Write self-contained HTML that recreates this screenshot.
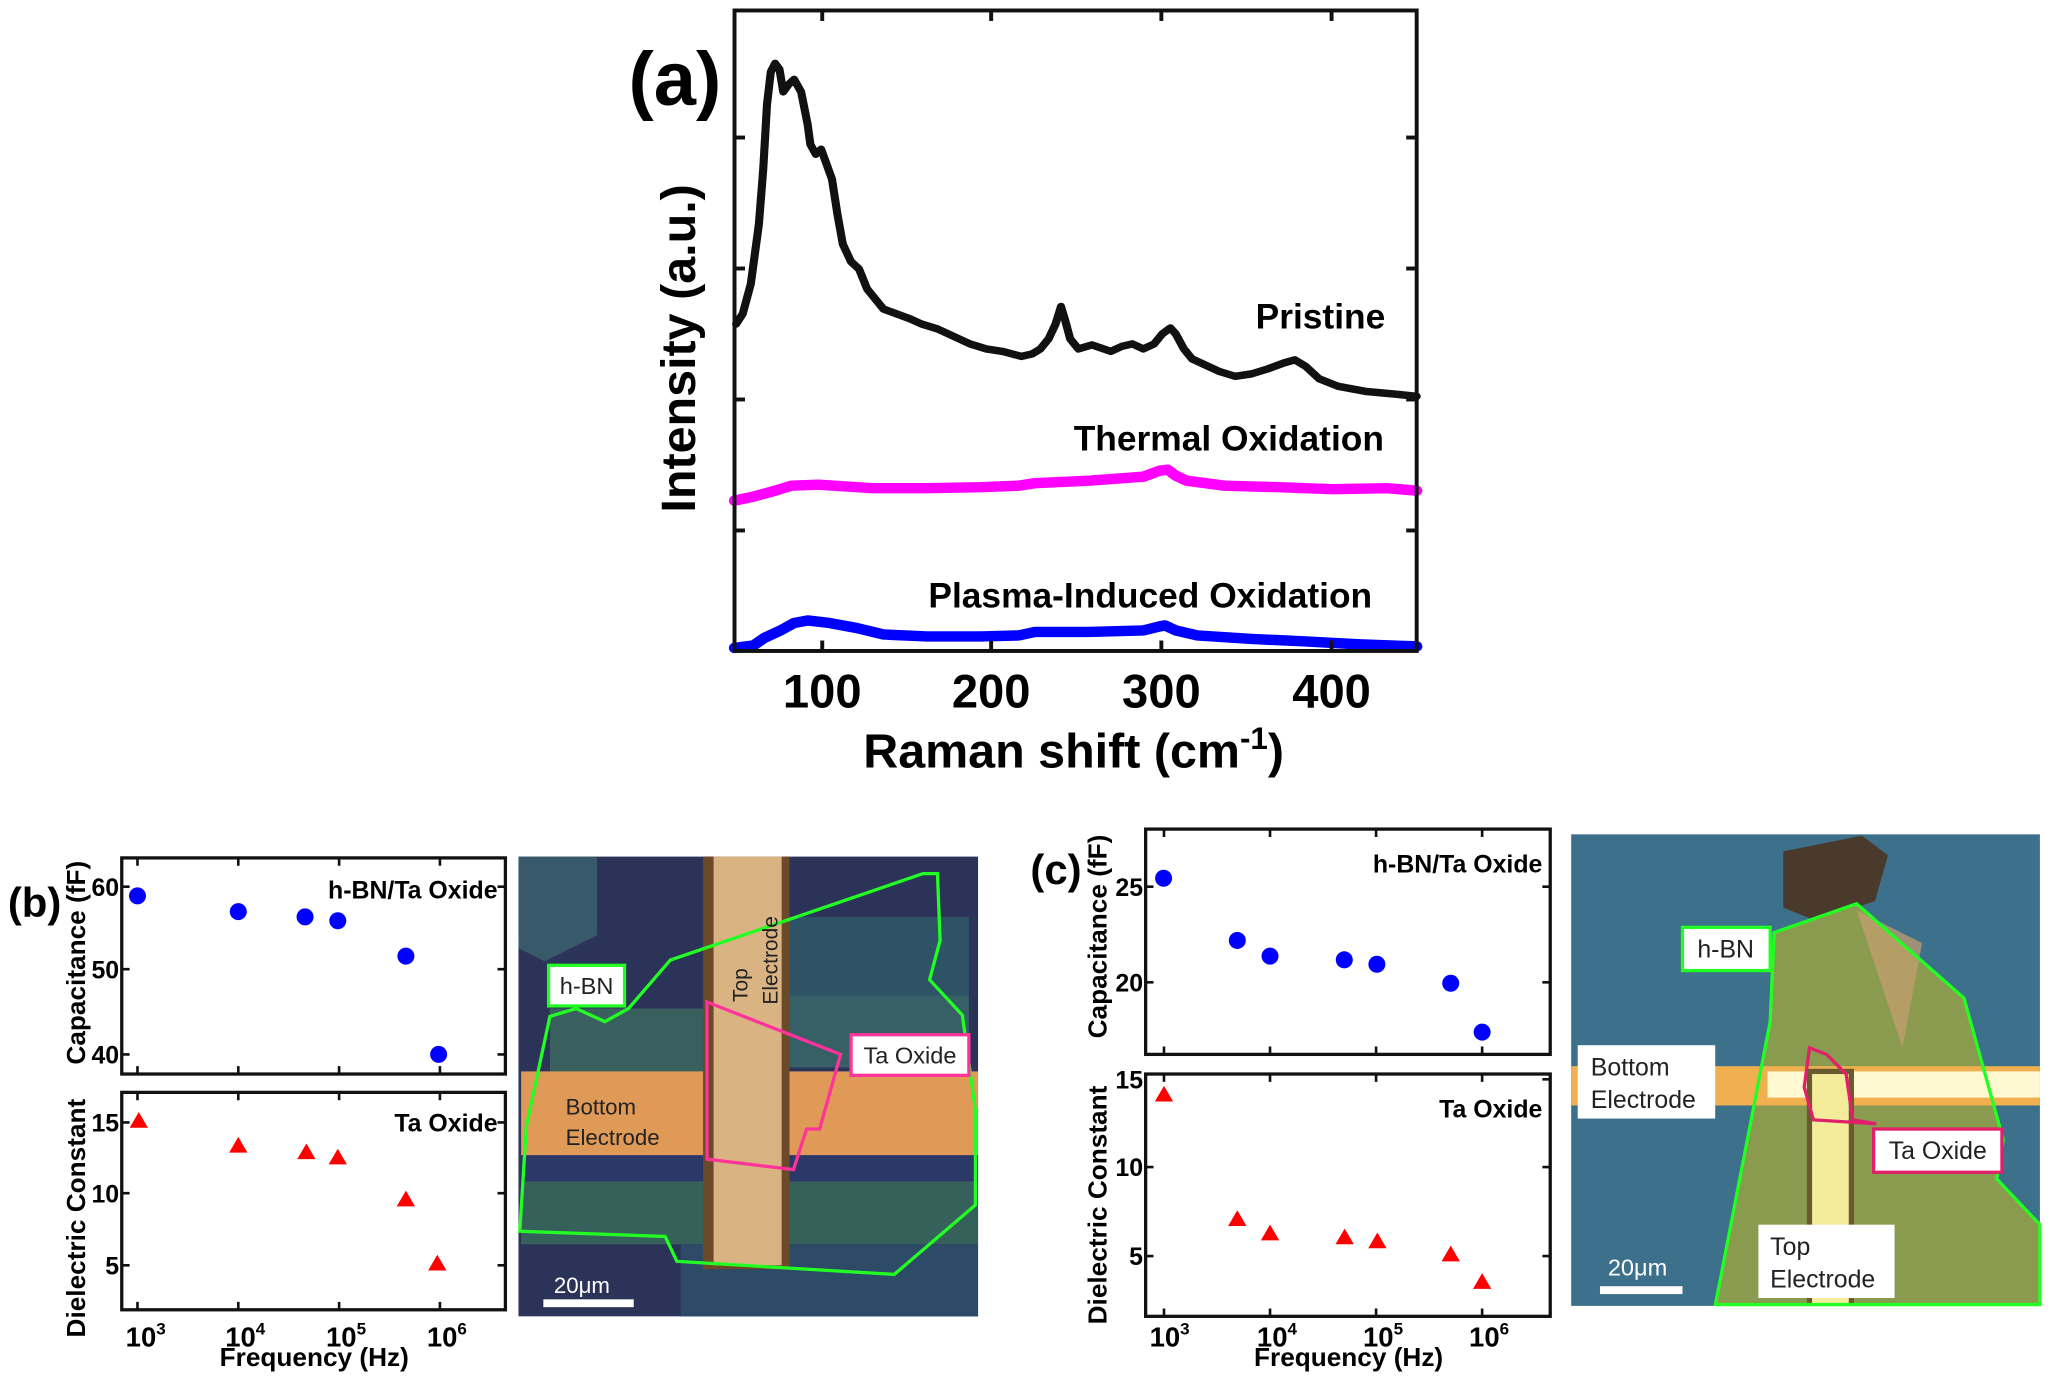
<!DOCTYPE html>
<html><head><meta charset="utf-8"><style>html,body{margin:0;padding:0;background:#fff}svg{display:block}</style></head>
<body>
<svg width="2053" height="1391" viewBox="0 0 1568 1062" preserveAspectRatio="none" xmlns="http://www.w3.org/2000/svg" font-family="Liberation Sans, sans-serif" font-weight="bold">
<rect width="1568" height="1062" fill="#fff"/>
<!-- Panel a -->
<text x="480" y="80" font-size="58">(a)</text>
<g transform="translate(459.7,3.43) scale(0.4135,0.3811)" fill="none" stroke-linejoin="round" stroke-linecap="round">
<polyline stroke="#111" stroke-width="15" points="248,640 260,620 275,560 290,440 298,330 305,200 312,135 320,118 328,130 335,175 345,160 355,150 368,175 380,240 385,280 395,300 405,290 415,320 425,350 435,420 445,480 460,515 475,530 490,570 505,590 520,610 545,620 570,630 590,640 620,650 650,665 680,680 710,690 740,695 775,705 795,700 810,690 825,670 838,640 848,605 855,630 865,670 880,690 905,682 940,695 960,685 980,680 1000,690 1020,680 1035,660 1050,648 1060,660 1075,690 1090,710 1110,720 1140,735 1170,745 1200,740 1230,730 1260,718 1280,712 1300,725 1325,750 1360,765 1410,775 1460,780 1505,785"/>
<g transform="translate(0,14)">
<polyline stroke="#f0f" stroke-width="21" points="245,980 280,972 320,960 350,950 400,948 500,955 600,955 700,953 770,950 800,945 900,940 1000,932 1030,920 1045,918 1060,930 1080,940 1150,950 1250,953 1350,957 1450,955 1505,960"/>
<polyline stroke="#00f" stroke-width="21" points="245,1275 280,1270 300,1255 330,1240 355,1225 380,1220 420,1225 470,1235 520,1248 600,1252 700,1252 770,1250 800,1243 900,1243 1000,1240 1030,1232 1040,1230 1060,1240 1100,1250 1200,1257 1300,1262 1400,1268 1505,1272"/>
</g>
</g>
<rect x="561" y="8" width="521" height="489" fill="none" stroke="#111" stroke-width="3"/>
<g stroke="#111" stroke-width="3">
<line x1="628" y1="497" x2="628" y2="489"/><line x1="757" y1="497" x2="757" y2="489"/><line x1="887" y1="497" x2="887" y2="489"/><line x1="1017" y1="497" x2="1017" y2="489"/>
<line x1="628" y1="8" x2="628" y2="16"/><line x1="757" y1="8" x2="757" y2="16"/><line x1="887" y1="8" x2="887" y2="16"/><line x1="1017" y1="8" x2="1017" y2="16"/>
<line x1="561" y1="105" x2="569" y2="105"/><line x1="561" y1="205" x2="569" y2="205"/><line x1="561" y1="305" x2="569" y2="305"/><line x1="561" y1="405" x2="569" y2="405"/>
<line x1="1082" y1="105" x2="1074" y2="105"/><line x1="1082" y1="205" x2="1074" y2="205"/><line x1="1082" y1="305" x2="1074" y2="305"/><line x1="1082" y1="405" x2="1074" y2="405"/>
</g>
<g font-size="36" text-anchor="middle">
<text x="628" y="540">100</text><text x="757" y="540">200</text><text x="887" y="540">300</text><text x="1017" y="540">400</text>
</g>
<text x="820" y="586" font-size="37" text-anchor="middle">Raman shift (cm<tspan dy="-14" font-size="24">-1</tspan><tspan dy="14">)</tspan></text>
<text transform="translate(531,266) rotate(-90)" font-size="37" text-anchor="middle">Intensity (a.u.)</text>
<g font-size="27" text-anchor="end">
<text x="1058" y="251">Pristine</text>
<text x="1057" y="344">Thermal Oxidation</text>
<text x="1048" y="464">Plasma-Induced Oxidation</text>
</g>

<!-- Panel b plots -->
<text x="6" y="700" font-size="32">(b)</text>
<g fill="none" stroke="#111" stroke-width="2.5">
<rect x="93" y="655" width="293" height="165"/>
<rect x="93" y="834" width="293" height="166"/>
</g>
<g stroke="#111" stroke-width="2">
<path d="M105 655v6M182 655v6M259 655v6M336 655v6M105 820v-6M182 820v-6M259 820v-6M336 820v-6M105 834v6M182 834v6M259 834v6M336 834v6M105 1000v-6M182 1000v-6M259 1000v-6M336 1000v-6"/>
<path d="M93 677h6M93 740h6M93 805h6M386 677h-6M386 740h-6M386 805h-6M93 857h6M93 911h6M93 966h6M386 857h-6M386 911h-6M386 966h-6"/>
</g>
<g fill="#00f">
<circle cx="105" cy="684" r="6.5"/><circle cx="182" cy="696" r="6.5"/><circle cx="233" cy="700" r="6.5"/><circle cx="258" cy="703" r="6.5"/><circle cx="310" cy="730" r="6.5"/><circle cx="335" cy="805" r="6.5"/>
</g>
<g fill="#f00">
<path d="M106 849l7 12h-14z"/><path d="M182 868l7 12h-14z"/><path d="M234 873l7 12h-14z"/><path d="M258 877l7 12h-14z"/><path d="M310 909l7 12h-14z"/><path d="M334 958l7 12h-14z"/>
</g>
<g font-size="19" text-anchor="end">
<text x="380" y="686">h-BN/Ta Oxide</text><text x="380" y="864">Ta Oxide</text>
<text x="91" y="684">60</text><text x="91" y="747">50</text><text x="91" y="812">40</text>
<text x="91" y="864">15</text><text x="91" y="918">10</text><text x="91" y="973">5</text>
</g>
<g font-size="21">
<text x="96" y="1028">10<tspan dy="-9" font-size="13">3</tspan></text>
<text x="172" y="1028">10<tspan dy="-9" font-size="13">4</tspan></text>
<text x="249" y="1028">10<tspan dy="-9" font-size="13">5</tspan></text>
<text x="326" y="1028">10<tspan dy="-9" font-size="13">6</tspan></text>
</g>
<text x="240" y="1043" font-size="20" text-anchor="middle">Frequency (Hz)</text>
<text transform="translate(65,735) rotate(-90)" font-size="20" text-anchor="middle">Capacitance (fF)</text>
<text transform="translate(65,930) rotate(-90)" font-size="20" text-anchor="middle">Dielectric Constant</text>

<!-- Panel b image -->
<rect x="396" y="654" width="351" height="351" fill="#2b3358"/>
<path d="M396 654h60v60l-40 20-20-10z" fill="#3d6a70" opacity="0.7"/>
<path d="M600 700h140v60h-140z" fill="#2f5a6a" opacity="0.8"/>
<path d="M420 770h120v50h-120z" fill="#3e6a62" opacity="0.8"/>
<path d="M600 760h140v55h-140z" fill="#3a6a6a" opacity="0.8"/>
<rect x="398" y="818" width="349" height="64" fill="#e09a58"/>
<path d="M398 882h349v20h-349z" fill="#2c3868"/>
<path d="M398 902h349v48h-349z" fill="#36605a"/>
<path d="M520 950h227v55h-227z" fill="#2d4a66"/>
<rect x="537" y="654" width="66" height="315" fill="#6a4a28"/>
<rect x="545" y="654" width="52" height="312" fill="#d9b482"/>
<polygon points="397,940 508,944 517,963 683,973 745,920 745,848 735,775 710,748 718,718 716,667 705,667 512,733 480,770 462,780 440,770 420,776 402,860" fill="none" stroke="#2f2" stroke-width="2.5"/>
<polygon points="540,765 642,805 626,862 616,862 606,893 540,885" fill="none" stroke="#f39" stroke-width="2.5"/>
<rect x="419" y="737" width="58" height="31" fill="#fff" stroke="#2f2" stroke-width="2.5"/>
<text x="448" y="759" font-size="18" font-weight="normal" text-anchor="middle" fill="#222">h-BN</text>
<rect x="650" y="790" width="90" height="31" fill="#fff" stroke="#f39" stroke-width="2.5"/>
<text x="695" y="812" font-size="18" font-weight="normal" text-anchor="middle" fill="#222">Ta Oxide</text>
<text x="432" y="851" font-size="17" font-weight="normal" fill="#222">Bottom</text>
<text x="432" y="874" font-size="17" font-weight="normal" fill="#222">Electrode</text>
<text transform="translate(571,765) rotate(-90)" font-size="16" font-weight="normal" fill="#222">Top</text>
<text transform="translate(594,767) rotate(-90)" font-size="16" font-weight="normal" fill="#222">Electrode</text>
<text x="423" y="987" font-size="17" font-weight="normal" fill="#fff">20μm</text>
<rect x="415" y="992" width="69" height="6" fill="#fff"/>

<!-- Panel c plots -->
<text x="787" y="675" font-size="32">(c)</text>
<g fill="none" stroke="#111" stroke-width="2.5">
<rect x="875" y="633" width="309" height="172"/>
<rect x="875" y="820" width="309" height="185"/>
</g>
<g stroke="#111" stroke-width="2">
<path d="M889 633v6M970 633v6M1051 633v6M1132 633v6M889 805v-6M970 805v-6M1051 805v-6M1132 805v-6M889 820v6M970 820v6M1051 820v6M1132 820v6M889 1005v-6M970 1005v-6M1051 1005v-6M1132 1005v-6"/>
<path d="M875 677h6M875 750h6M1184 677h-6M1184 750h-6M875 891h6M875 959h6M1184 824h-6M1184 891h-6M1184 959h-6"/>
</g>
<g fill="#00f">
<circle cx="888.7" cy="670.5" r="6.5"/><circle cx="945" cy="718" r="6.5"/><circle cx="970" cy="730" r="6.5"/><circle cx="1026.7" cy="732.8" r="6.5"/><circle cx="1051.6" cy="736.2" r="6.5"/><circle cx="1108" cy="750.7" r="6.5"/><circle cx="1132" cy="788" r="6.5"/>
</g>
<g fill="#f00">
<path d="M889 829l7 12h-14z"/><path d="M945 924l7 12h-14z"/><path d="M970 935l7 12h-14z"/><path d="M1027 938l7 12h-14z"/><path d="M1052 941l7 12h-14z"/><path d="M1108 951l7 12h-14z"/><path d="M1132 972l7 12h-14z"/>
</g>
<g font-size="19" text-anchor="end">
<text x="1178" y="666">h-BN/Ta Oxide</text><text x="1178" y="853">Ta Oxide</text>
<text x="873" y="684">25</text><text x="873" y="757">20</text>
<text x="873" y="831">15</text><text x="873" y="898">10</text><text x="873" y="966">5</text>
</g>
<g font-size="21">
<text x="878" y="1028">10<tspan dy="-9" font-size="13">3</tspan></text>
<text x="960" y="1028">10<tspan dy="-9" font-size="13">4</tspan></text>
<text x="1041" y="1028">10<tspan dy="-9" font-size="13">5</tspan></text>
<text x="1122" y="1028">10<tspan dy="-9" font-size="13">6</tspan></text>
</g>
<text x="1030" y="1043" font-size="20" text-anchor="middle">Frequency (Hz)</text>
<text transform="translate(845,715) rotate(-90)" font-size="20" text-anchor="middle">Capacitance (fF)</text>
<text transform="translate(845,920) rotate(-90)" font-size="20" text-anchor="middle">Dielectric Constant</text>

<!-- Panel c image -->
<rect x="1200" y="637" width="358" height="360" fill="#3d708a"/>
<path d="M1362 650l60-12 20 15-10 35-45 15-25-10z" fill="#4a3a2c"/>
<polygon points="1310,997 1352,780 1355,712 1418,690 1500,762 1530,870 1525,900 1558,935 1558,997" fill="#8a9a4e"/>
<path d="M1418 695l50 25-15 80z" fill="#c8a070" opacity="0.7"/>
<rect x="1200" y="814" width="358" height="30" fill="#f0b050"/>
<rect x="1350" y="818" width="208" height="20" fill="#fff8d0"/>
<rect x="1380" y="816" width="36" height="181" fill="#6a5a30"/>
<rect x="1384" y="820" width="28" height="177" fill="#f4ec9a"/>
<polyline points="1310,997 1352,780 1355,712 1418,690 1500,762 1530,870 1525,900 1558,935 1558,996 1310,996" fill="none" stroke="#2f2" stroke-width="2.5"/>
<polygon points="1382,800 1395,805 1410,820 1415,855 1433,858 1385,855 1378,830" fill="none" stroke="#e0206a" stroke-width="2.5"/>
<rect x="1285" y="708" width="67" height="33" fill="#fff" stroke="#2f2" stroke-width="2.5"/>
<text x="1318" y="731" font-size="19" font-weight="normal" text-anchor="middle" fill="#222">h-BN</text>
<rect x="1205" y="798" width="105" height="56" fill="#fff"/>
<text x="1215" y="821" font-size="19" font-weight="normal" fill="#222">Bottom</text>
<text x="1215" y="846" font-size="19" font-weight="normal" fill="#222">Electrode</text>
<rect x="1431" y="862" width="98" height="33" fill="#fff" stroke="#e0206a" stroke-width="2.5"/>
<text x="1480" y="885" font-size="19" font-weight="normal" text-anchor="middle" fill="#222">Ta Oxide</text>
<rect x="1343" y="935" width="104" height="56" fill="#fff"/>
<text x="1352" y="958" font-size="19" font-weight="normal" fill="#222">Top</text>
<text x="1352" y="983" font-size="19" font-weight="normal" fill="#222">Electrode</text>
<text x="1228" y="974" font-size="18" font-weight="normal" fill="#fff">20μm</text>
<rect x="1222" y="982" width="63" height="6" fill="#fff"/>
</svg>
</body></html>
